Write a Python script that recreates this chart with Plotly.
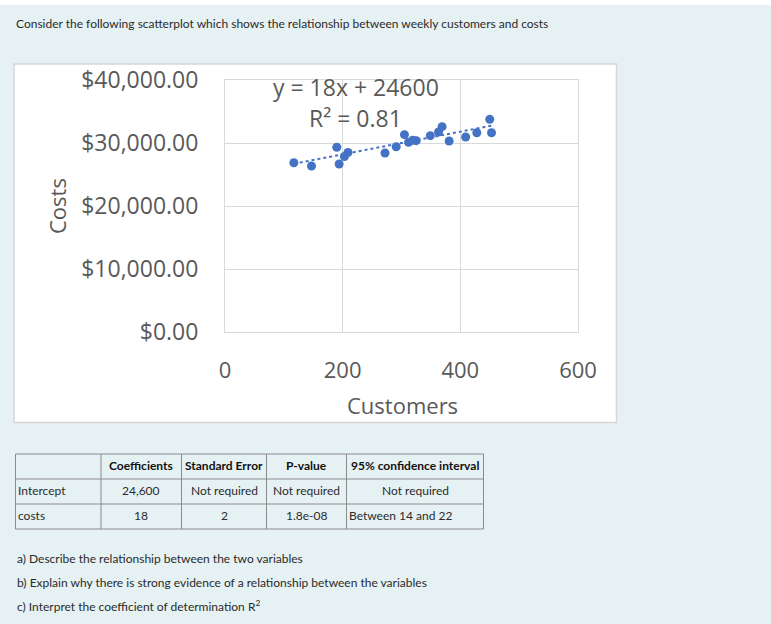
import plotly.graph_objects as go

# ---------------- data ----------------
customers = [117, 147, 190, 194, 203, 209, 272, 291, 305, 312,
             319, 325, 349, 363, 369, 381, 409, 428, 450, 453]
costs = [26870, 26350, 29320, 26670, 27860, 28490, 28410, 29410, 31320, 30110,
         30430, 30370, 31160, 31750, 32590, 30320, 30950, 31630, 33760, 31630]
slope = 18
intercept = 24600
r_squared = 0.81

x_ticks = [0, 200, 400, 600]
y_ticks = [0, 10000, 20000, 30000, 40000]
x_title = "Customers"
y_title = "Costs"

table_header = ["", "Coefficients", "Standard Error", "P-value", "95% confidence interval"]
row_labels = ["Intercept", "costs"]
coefficients = ["24,600", "18"]
std_errors = ["Not required", "2"]
p_values = ["Not required", "1.8e-08"]
conf_intervals = ["Not required", "Between 14 and 22"]

intro_text = "Consider the following scatterplot which shows the relationship between weekly customers and costs"
questions = [
    "a) Describe the relationship between the two variables",
    "b) Explain why there is strong evidence of a relationship between the variables",
    "c) Interpret the coefficient of determination R<sup>2</sup>",
]

# ---------------- layout helpers ----------------
W, H = 771, 624
PAGE_BG = "#e6f1f4"
BLUE = "#4472c4"
GRID = "#d9d9d9"
AXTXT = "#595959"
CHART_FONT = "Open Sans"
PAGE_FONT = "Lato"


def px(x):
    return x / W


def py(y):
    return 1 - y / H


fig = go.Figure()

fig.add_trace(go.Scatter(
    x=customers, y=costs, mode="markers",
    marker=dict(color=BLUE, size=9, line=dict(width=0)),
    showlegend=False, hoverinfo="skip",
))

trend_x = [min(customers), max(customers)]
trend_y = [slope * v + intercept for v in trend_x]
fig.add_trace(go.Scatter(
    x=trend_x, y=trend_y, mode="lines",
    line=dict(color=BLUE, width=2, dash="dot"),
    showlegend=False, hoverinfo="skip",
))

shapes = []
annotations = []


def label(text, x, y, size, color, family, xanchor="center", angle=0):
    annotations.append(dict(text=text, xref="paper", yref="paper", x=px(x), y=py(y),
                            xanchor=xanchor, yanchor="middle", textangle=angle,
                            showarrow=False,
                            font=dict(family=family, size=size, color=color)))


# white strip at the top of the page
shapes.append(dict(type="rect", xref="paper", yref="paper", x0=0, x1=1,
                   y0=py(5), y1=1, fillcolor="white", line=dict(width=0), layer="below"))
# chart container
shapes.append(dict(type="rect", xref="paper", yref="paper", x0=px(14), x1=px(616.5),
                   y0=py(422.5), y1=py(64), fillcolor="white",
                   line=dict(color="#d6d6d6", width=1.5), layer="below"))

# axis titles and trendline label
label(x_title, 402, 405, 22, AXTXT, CHART_FONT)
label(y_title, 57, 206, 22, AXTXT, CHART_FONT, angle=-90)
label(f"y = {slope}x + {intercept}", 356, 87, 23, AXTXT, CHART_FONT)
label(f"R² = {r_squared}", 355.5, 118, 23, AXTXT, CHART_FONT)

# page text
label(intro_text, 14, 24, 12, "#2a2a2a", PAGE_FONT, xanchor="left")
for i, q in enumerate(questions):
    label(q, 15, 558 + 24 * i, 12, "#2a2a2a", PAGE_FONT, xanchor="left")

# ---------------- table (lines + cell text) ----------------
col_edges = [15.5, 101, 181.5, 266.5, 346.5, 483.5]
row_edges = [454, 479, 504, 529]
TLINE = "#8a8a8a"
for xe in col_edges:
    shapes.append(dict(type="line", xref="paper", yref="paper", x0=px(xe), x1=px(xe),
                       y0=py(row_edges[0]), y1=py(row_edges[-1]),
                       line=dict(color=TLINE, width=1)))
for ye in row_edges:
    shapes.append(dict(type="line", xref="paper", yref="paper", x0=px(col_edges[0]),
                       x1=px(col_edges[-1]), y0=py(ye), y1=py(ye),
                       line=dict(color=TLINE, width=1)))

body_rows = [[row_labels[r], coefficients[r], std_errors[r], p_values[r], conf_intervals[r]]
             for r in range(len(row_labels))]
body_align = [["left", "center", "center", "center", "center"],
              ["left", "center", "center", "center", "left"]]


def cell_text(text, r, c, align, bold=False):
    if not text:
        return
    yc = (row_edges[r] + row_edges[r + 1]) / 2 - 1.5
    if align == "left":
        x, xa = col_edges[c] + 0.5, "left"
    else:
        x, xa = (col_edges[c] + col_edges[c + 1]) / 2, "center"
    label(f"<b>{text}</b>" if bold else text, x, yc, 12,
          "#111111" if bold else "#2b2b2b", PAGE_FONT, xanchor=xa)


for c, h in enumerate(table_header):
    cell_text(h, 0, c, "center", bold=True)
for r, row in enumerate(body_rows):
    for c, v in enumerate(row):
        cell_text(v, r + 1, c, body_align[r][c])

axis_common = dict(
    showgrid=True, gridcolor=GRID, gridwidth=1, zeroline=False,
    showline=True, linecolor=GRID, linewidth=1, mirror=True, ticks="",
    automargin=False, fixedrange=True,
)

fig.update_layout(
    width=W, height=H, margin=dict(l=0, r=0, t=0, b=0, pad=0, autoexpand=False),
    paper_bgcolor=PAGE_BG, plot_bgcolor="white",
    xaxis=dict(domain=[px(225), px(578)], range=[0, 600], tickmode="array",
               tickvals=x_ticks, ticklabelstandoff=19,
               tickfont=dict(family=CHART_FONT, size=22, color=AXTXT), **axis_common),
    yaxis=dict(domain=[py(332), py(80)], range=[0, 40000], tickmode="array",
               tickvals=y_ticks, tickformat="$,.2f", ticklabelstandoff=21,
               tickfont=dict(family=CHART_FONT, size=23, color=AXTXT), **axis_common),
    shapes=shapes, annotations=annotations, showlegend=False,
)

fig.write_html("out.html", config={"displayModeBar": False},
               post_script="document.body.style.margin='0';")
